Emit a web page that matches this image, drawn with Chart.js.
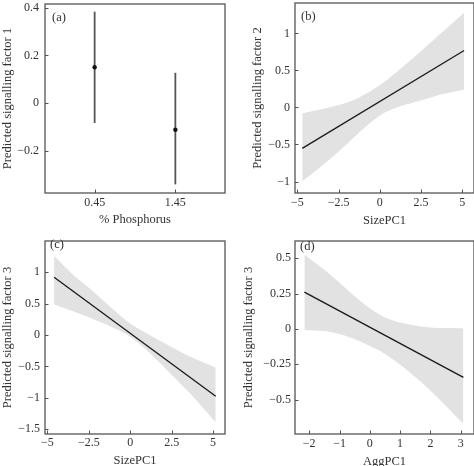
<!DOCTYPE html>
<html>
<head>
<meta charset="utf-8">
<script src="https://cdn.jsdelivr.net/npm/chart.js@4.4.0/dist/chart.umd.min.js"></script>
<style>
  html, body { margin: 0; padding: 0; background: #fff; overflow: hidden; width: 474px; height: 466px; }
  canvas { position: absolute; }
</style>
</head>
<body>
<canvas id="panelA" width="237" height="233" style="left:0;top:0;width:237px;height:233px"></canvas>
<canvas id="panelB" width="237" height="233" style="left:237px;top:0;width:237px;height:233px"></canvas>
<canvas id="panelC" width="237" height="233" style="left:0;top:233px;width:237px;height:233px"></canvas>
<canvas id="panelD" width="237" height="233" style="left:237px;top:233px;width:237px;height:233px"></canvas>
<script>
// (a) signalling factor 1 vs % Phosphorus (mean and interval)
const phosLevels = [0.45, 1.45];
const factor1Mean = [0.15, -0.111];
const factor1Low = [-0.083, -0.34];
const factor1High = [0.383, 0.127];
const ticksA_x = [0.45, 1.45];
const ticksA_y = [-0.2, 0, 0.2, 0.4];

// (b) signalling factor 2 vs SizePC1
const lineB_x = [-4.71, 5.12];
const lineB_y = [-0.553, 0.768];
const bandB_x = [-4.71, -3.14, -1.93, -0.92, 0.18, 1.29, 2.5, 3.71, 5.12];
const bandB_upper = [-0.08, -0.005, 0.07, 0.175, 0.33, 0.53, 0.76, 1.0, 1.28];
const bandB_lower = [-1.0, -0.72, -0.48, -0.27, -0.085, 0.02, 0.095, 0.175, 0.24];
const ticksB_x = [-5, -2.5, 0, 2.5, 5];
const ticksB_y = [-1, -0.5, 0, 0.5, 1];

// (c) signalling factor 3 vs SizePC1
const lineC_x = [-4.6, 5.16];
const lineC_y = [0.916, -0.975];
const bandC_x = [-4.6, -3.5, -2.5, -1.3, -0.1, 0.9, 2.0, 3.5, 5.16];
const bandC_upper = [1.26, 0.97, 0.75, 0.47, 0.2, 0.04, -0.12, -0.33, -0.52];
const bandC_lower = [0.49, 0.38, 0.28, 0.145, -0.01, -0.22, -0.5, -0.9, -1.39];
const ticksC_x = [-5, -2.5, 0, 2.5, 5];
const ticksC_y = [-1.5, -1, -0.5, 0, 0.5, 1];

// (d) signalling factor 3 vs AggPC1
const lineD_x = [-2.16, 3.09];
const lineD_y = [0.26, -0.343];
const bandD_x = [-2.16, -1.51, -0.86, -0.21, 0.45, 1.1, 1.97, 3.09];
const bandD_upper = [0.525, 0.42, 0.30, 0.18, 0.087, 0.04, 0.01, 0.005];
const bandD_lower = [-0.007, -0.015, -0.045, -0.1, -0.17, -0.27, -0.43, -0.67];
const ticksD_x = [-2, -1, 0, 1, 2, 3];
const ticksD_y = [-0.5, -0.25, 0, 0.25, 0.5];

const FONT = '"Liberation Serif", "DejaVu Serif", serif';
const TEXT = '#333';
const AXIS = '#555';

const pts = (xs, ys) => xs.map((x, i) => ({ x: x, y: ys[i] }));
const fmt = v => String(v).replace('-', '\u2212');

// box round the plot, inward tick marks and the panel letter
const framePlugin = {
    id: 'frame',
    afterDraw(chart, args, opts) {
        const { ctx, chartArea: a, scales } = chart;
        ctx.save();
        ctx.strokeStyle = AXIS;
        ctx.lineWidth = 1;
        ctx.beginPath();
        scales.x.ticks.forEach(t => {
            const px = Math.round(scales.x.getPixelForValue(t.value)) + 0.5;
            ctx.moveTo(px, a.bottom);
            ctx.lineTo(px, a.bottom - 3.5);
        });
        scales.y.ticks.forEach(t => {
            const py = Math.round(scales.y.getPixelForValue(t.value)) + 0.5;
            ctx.moveTo(a.left, py);
            ctx.lineTo(a.left + 3.5, py);
        });
        ctx.stroke();
        ctx.lineWidth = 1.3;
        ctx.strokeRect(a.left, a.top, a.right - a.left, a.bottom - a.top);
        ctx.fillStyle = TEXT;
        ctx.font = '12.5px ' + FONT;
        ctx.textBaseline = 'top';
        ctx.fillText(opts.label, a.left + opts.dx, a.top + opts.dy);
        ctx.restore();
    }
};

// fixed axis sizes, and no extra room for labels that stick out
function noPad(s) {
    s.paddingTop = 0; s.paddingBottom = 0; s.paddingLeft = 0; s.paddingRight = 0;
}

function makeScales(p) {
    return {
        x: {
            type: 'linear', min: p.xMin, max: p.xMax,
            afterBuildTicks: s => { s.ticks = p.xTicks.map(v => ({ value: v })); },
            afterFit: s => { s.height = p.xHeight; noPad(s); },
            grid: { display: false, drawTicks: false }, border: { display: false },
            ticks: { autoSkip: false, maxRotation: 0, padding: p.xTickPad, color: TEXT,
                     font: { family: FONT, size: 12 }, callback: v => fmt(v) },
            title: { display: true, text: p.xTitle, color: TEXT, font: { family: FONT, size: 12.5 },
                     padding: { top: 0, bottom: p.xTitlePad } }
        },
        y: {
            type: 'linear', min: p.yMin, max: p.yMax,
            afterBuildTicks: s => { s.ticks = p.yTicks.map(v => ({ value: v })); },
            afterFit: s => { s.width = p.yWidth; noPad(s); },
            grid: { display: false, drawTicks: false }, border: { display: false },
            ticks: { autoSkip: false, padding: p.yTickPad, color: TEXT,
                     font: { family: FONT, size: 12 }, callback: v => fmt(v) },
            title: { display: true, text: p.yTitle, color: TEXT, font: { family: FONT, size: 12.5 },
                     padding: { top: p.yTitlePad, bottom: 0 } }
        }
    };
}

function makeChart(id, datasets, p) {
    return new Chart(document.getElementById(id), {
        type: 'line',
        data: { datasets: datasets },
        options: {
            responsive: false, animation: false, devicePixelRatio: 1,
            layout: { padding: { left: 0, right: p.padRight, top: p.padTop, bottom: 0 } },
            elements: { point: { radius: 0 } },
            plugins: { legend: { display: false }, tooltip: { enabled: false },
                       frame: { label: p.label, dx: p.labelDx, dy: p.labelDy } },
            scales: makeScales(p)
        },
        plugins: [framePlugin]
    });
}

// band drawn underneath (higher order), fitted line on top
function bandSets(bx, lower, upper, lx, ly) {
    return [
        { data: pts(bx, lower), borderWidth: 0, fill: false, tension: 0.3, order: 2 },
        { data: pts(bx, upper), borderWidth: 0, fill: '-1', backgroundColor: '#e2e2e2', tension: 0.3, order: 1 },
        { data: pts(lx, ly), borderColor: '#1a1a1a', borderWidth: 1.3, fill: false, order: 0 }
    ];
}

// (a)
const barsA = phosLevels.map((x, i) => ({
    data: [{ x: x, y: factor1Low[i] }, { x: x, y: factor1High[i] }],
    borderColor: AXIS, borderWidth: 1.8, fill: false, order: 1
}));
barsA.push({
    data: pts(phosLevels, factor1Mean), showLine: false, order: 0,
    pointRadius: 2.2, pointBackgroundColor: '#111', pointBorderWidth: 0
});
makeChart('panelA', barsA, {
    label: '(a)', labelDx: 7, labelDy: 7,
    xMin: -0.165, xMax: 2.065, xTicks: ticksA_x, xTitle: '% Phosphorus',
    yMin: -0.376, yMax: 0.415, yTicks: ticksA_y, yTitle: 'Predicted signalling factor 1',
    padRight: 12, padTop: 3, yWidth: 45, xHeight: 40,
    xTickPad: 3, xTitlePad: 5.5, yTickPad: 6, yTitlePad: 0
});

// (b)
makeChart('panelB', bandSets(bandB_x, bandB_lower, bandB_upper, lineB_x, lineB_y), {
    label: '(b)', labelDx: 6, labelDy: 7,
    xMin: -5.15, xMax: 5.72, xTicks: ticksB_x, xTitle: 'SizePC1',
    yMin: -1.155, yMax: 1.41, yTicks: ticksB_y, yTitle: 'Predicted signalling factor 2',
    padRight: 0, padTop: 3, yWidth: 58, xHeight: 40,
    xTickPad: 3, xTitlePad: 4.5, yTickPad: 5, yTitlePad: 13.5
});

// (c)
makeChart('panelC', bandSets(bandC_x, bandC_lower, bandC_upper, lineC_x, lineC_y), {
    label: '(c)', labelDx: 5, labelDy: -3,
    xMin: -5.15, xMax: 5.72, xTicks: ticksC_x, xTitle: 'SizePC1',
    yMin: -1.575, yMax: 1.494, yTicks: ticksC_y, yTitle: 'Predicted signalling factor 3',
    padRight: 12, padTop: 8, yWidth: 45, xHeight: 32,
    xTickPad: 2, xTitlePad: -2.5, yTickPad: 5, yTitlePad: 0
});

// (d)
makeChart('panelD', bandSets(bandD_x, bandD_lower, bandD_upper, lineD_x, lineD_y), {
    label: '(d)', labelDx: 5, labelDy: -1,
    xMin: -2.47, xMax: 3.44, xTicks: ticksD_x, xTitle: 'AggPC1',
    yMin: -0.743, yMax: 0.622, yTicks: ticksD_y, yTitle: 'Predicted signalling factor 3',
    padRight: 0, padTop: 8, yWidth: 58, xHeight: 32,
    xTickPad: 3, xTitlePad: -3, yTickPad: 4, yTitlePad: 4.5
});
</script>
</body>
</html>
